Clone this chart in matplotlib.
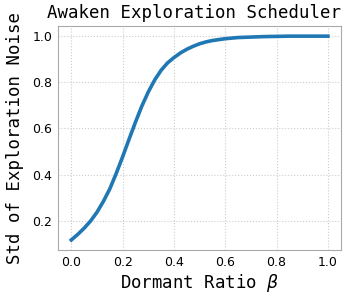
import matplotlib
matplotlib.use("Agg")
import matplotlib.pyplot as plt

# values
dormant_ratio = [0.0, 0.025, 0.05, 0.075, 0.10, 0.125, 0.15, 0.175, 0.20, 0.225, 0.25,
                 0.275, 0.30, 0.325, 0.35, 0.375, 0.40, 0.425, 0.45, 0.475, 0.50,
                 0.525, 0.55, 0.575, 0.60, 0.65, 0.70, 0.75, 0.80,
                 0.85, 0.90, 0.95, 1.0]
noise_std = [0.117, 0.141, 0.168, 0.199, 0.237, 0.284, 0.338, 0.405, 0.477, 0.553, 0.627,
             0.697, 0.758, 0.810, 0.852, 0.884, 0.907, 0.927, 0.943, 0.956, 0.967,
             0.975, 0.981, 0.985, 0.989, 0.994, 0.996, 0.998, 0.999,
             1.0, 1.0, 1.0, 1.0]

fig = plt.figure(figsize=(3.48, 2.95), dpi=100)
ax = fig.add_axes([0.168, 0.152, 0.811, 0.760])

ax.plot(dormant_ratio, noise_std, color="#1f77b4", linewidth=2.6)

ax.grid(True, linestyle=":", color="#cccccc", linewidth=0.8)
for s in ax.spines.values():
    s.set_color("#aaaaaa")
ax.tick_params(labelsize=9, length=0, pad=4.5)
ax.set_xticks([0.0, 0.2, 0.4, 0.6, 0.8, 1.0])
ax.set_yticks([0.2, 0.4, 0.6, 0.8, 1.0])

ax.set_title("Awaken Exploration Scheduler", family="DejaVu Sans Mono", fontsize=12.5, x=0.48)
ax.set_xlabel(r"Dormant Ratio $\beta$", family="DejaVu Sans Mono", fontsize=12.5, labelpad=2)
ax.set_ylabel("Std of Exploration Noise", family="DejaVu Sans Mono", fontsize=12.5, labelpad=6)

fig.savefig("out.png", dpi=100)
